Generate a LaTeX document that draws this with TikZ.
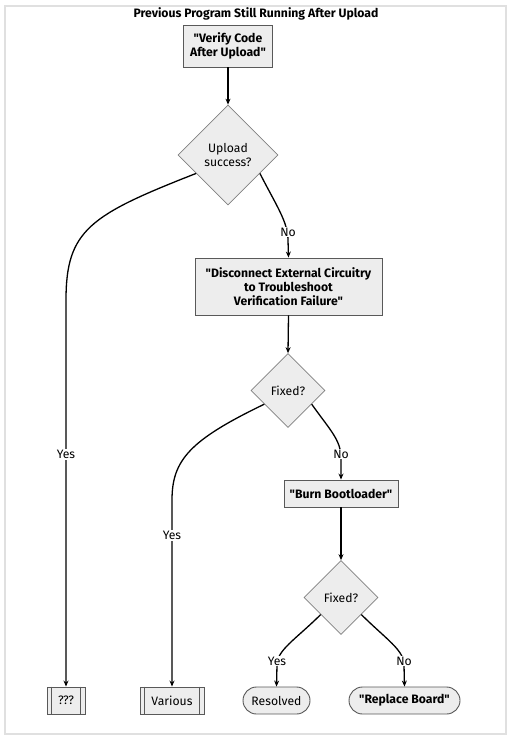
\documentclass[tikz,border=0pt]{standalone}
\usepackage{fontspec}
\setmainfont{Fira Sans}
\usetikzlibrary{shapes.geometric,arrows.meta}
\newcommand{\qq}{\textquotedbl}
\begin{document}
\begin{tikzpicture}[x=1pt,y=-1pt,
  every node/.style={font=\fontsize{12.2}{14}\selectfont},
  bfnode/.style={font=\fontsize{12.2}{14}\selectfont\bfseries},
  procbox/.style={draw=black!65,fill=black!7,line width=0.9pt,align=center,inner sep=0pt},
  decide/.style={diamond,draw=black!50,fill=black!7,line width=0.7pt,align=center,inner sep=0pt,aspect=1},
  subr/.style={draw=black!65,fill=black!7,line width=0.9pt,inner sep=0pt},
  pill/.style={draw=black!65,fill=black!7,line width=0.9pt,rounded corners=13.5pt,inner sep=0pt},
  conn/.style={line width=1.3pt,-{Stealth[length=6pt,width=5pt]}},
  elabel/.style={fill=white,inner sep=1pt}]
\useasboundingbox (0,0) rectangle (519,750);
\draw[black!12,line width=1.5pt] (5,6) rectangle (506,734);
\node[bfnode] (title) at (256,14) {Previous Program Still Running After Upload};
\node[procbox,bfnode,minimum width=89pt,minimum height=42pt] (b1) at (228,46) {\qq Verify Code\\After Upload\qq};
\node[decide,minimum width=100pt,minimum height=100pt] (d1) at (228,155) {Upload\\success?};
\node[procbox,bfnode,minimum width=187pt,minimum height=57pt] (b2) at (288.5,286.5) {\qq Disconnect External Circuitry\\to Troubleshoot\\Verification Failure\qq};
\node[decide,minimum width=74pt,minimum height=74pt] (d2) at (288,390.5) {Fixed?};
\node[procbox,bfnode,minimum width=114pt,minimum height=27pt] (b3) at (341,493.5) {\qq Burn Bootloader\qq};
\node[decide,minimum width=74pt,minimum height=74pt] (d3) at (341,597.5) {Fixed?};
\node[subr,minimum width=38pt,minimum height=27pt] (q) at (66,700.5) {???};
\draw[black!65,line width=0.9pt] ([xshift=5pt]q.north west) -- ([xshift=5pt]q.south west) ([xshift=-5pt]q.north east) -- ([xshift=-5pt]q.south east);
\node[subr,minimum width=64pt,minimum height=27pt] (v) at (172,700.5) {Various};
\draw[black!65,line width=0.9pt] ([xshift=5pt]v.north west) -- ([xshift=5pt]v.south west) ([xshift=-5pt]v.north east) -- ([xshift=-5pt]v.south east);
\node[pill,minimum width=67pt,minimum height=27pt] (r) at (276.5,700.5) {Resolved};
\node[pill,bfnode,minimum width=111pt,minimum height=27pt] (rb) at (404.5,700.5) {\qq Replace Board\qq};
% connectors
\draw[conn] (b1.south) -- (d1.north);
\draw[conn] (d1.210) .. controls (90,215) and (66,230) .. (66,300) -- node[elabel,pos=0.4]{Yes} (q.north);
\draw[conn] (d1.-30) .. controls (276,205) and (288,222) .. (288,240) -- (b2.north);
\node[elabel] (l1) at (288,232) {No};
\draw[conn] (b2.south) -- (d2.north);
\draw[conn] (d2.210) .. controls (190,440) and (172,460) .. (172,500) -- node[elabel,pos=0.19]{Yes} (v.north);
\draw[conn] (d2.-30) .. controls (330,430) and (341,440) .. (341,458) -- (b3.north);
\node[elabel] (l2) at (341,454) {No};
\draw[conn] (b3.south) -- (d3.north);
\draw[conn] (d3.220) .. controls (295,640) and (277,650) .. (277,665) -- (r.north);
\node[elabel] (l3) at (277,661) {Yes};
\draw[conn] (d3.-40) .. controls (387,640) and (404,650) .. (404,665) -- (rb.north);
\node[elabel] (l4) at (404,661) {No};
\end{tikzpicture}
\end{document}
